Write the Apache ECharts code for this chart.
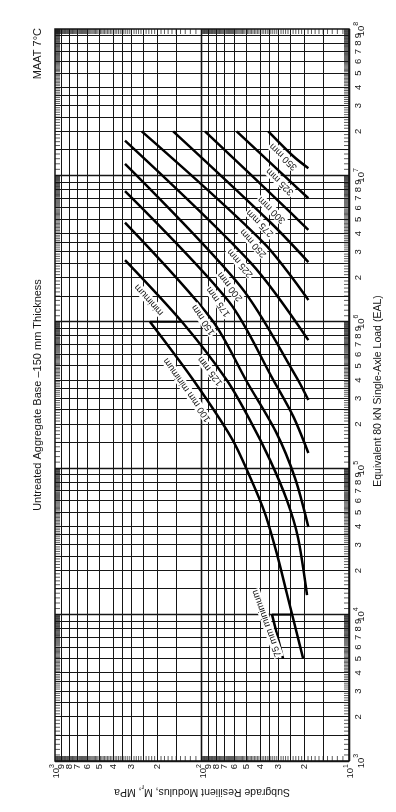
<!DOCTYPE html>
<html><head><meta charset="utf-8">
<script src="https://cdn.jsdelivr.net/npm/echarts/dist/echarts.min.js"></script>
<style>html,body{margin:0;padding:0;background:#fff;}#c{width:396px;height:812px;}</style>
</head><body><div id="c"></div>
<script>
// ---- axes ----
const modulusMin = 10, modulusMax = 1000;
const ealMin = 1e3, ealMax = 1e8;
const gridMultipliers = [1, 1.5, 2, 2.5, 3, 3.5, 4, 5, 6, 7, 8, 9];
const modulusDecades = [10, 100];
const ealDecades = [1e3, 1e4, 1e5, 1e6, 1e7];
const digitLabels = ['2', '3', '4', '5', '6', '7', '8', '9'];
const modulusPowers = [1, 2, 3];
const ealPowers = [3, 4, 5, 6, 7, 8];

// ---- curves: [modulus MPa, EAL] ----
const t350 = [[35.4, 2.0e7], [23.7, 1.34e7], [18.9, 1.12e7]];
const t325 = [[58.1, 2.0e7], [24.8, 9.0e6], [18.9, 6.98e6]];
const t300 = [[95.4, 2.0e7], [26.0, 5.8e6], [18.9, 4.24e6]];
const t275 = [[157, 2.0e7], [33.9, 4.73e6], [18.9, 2.56e6]];
const t250 = [[257, 2.0e7], [37.9, 3.45e6], [18.9, 1.41e6]];
const t225 = [[334, 1.73e7], [46.4, 2.52e6], [18.9, 7.5e5]];
const t200 = [[334, 1.2e7], [54.3, 1.73e6], [22.6, 4.13e5], [18.9, 2.92e5]];
const t175 = [[334, 7.82e6], [65.5, 1.37e6], [32.7, 4.0e5], [23.9, 2.25e5], [18.9, 1.27e5]];
const t150 = [[334, 4.75e6], [85.5, 1.03e6], [49.4, 3.88e5], [31.4, 1.77e5], [23.3, 8.57e4], [18.9, 3.97e4]];
const t125 = [[334, 2.64e6], [137, 1.0e6], [67.9, 4.0e5], [47.2, 2.13e5], [34.5, 1.14e5], [26.5, 6.07e4], [22.2, 3.34e4], [19.3, 1.36e4]];
const t100min = [[226, 1.0e6], [114.6, 4.0e5], [62.8, 1.6e5], [47.2, 8.75e4], [37.3, 4.92e4], [31.0, 2.62e4], [26.5, 1.4e4], [20.5, 5000]];
const t75min = [[33.4, 1.0e4], [28.1, 5000]];
const stub1e6 = [[226, 1e6], [137, 1e6]];
const stub1e4 = [[33.4, 1e4], [24.8, 1e4]];

// ---- curve labels ----
const curveLabelTexts = ['350 mm', '325 mm', '300 mm', '275 mm', '250 mm', '225 mm', '200 mm', '175 mm', '150 mm', 'minimum', '125 mm', '100 mm minimum', '75 mm minimum'];
const curveLabelModulus = [28.0, 29.5, 33.6, 40.3, 44.8, 55.1, 64.5, 77.5, 98.0, 229.4, 88.2, 126.5, 36.3];
const curveLabelEAL = [1.34e7, 9.06e6, 5.80e6, 4.71e6, 3.44e6, 2.51e6, 1.74e6, 1.37e6, 1.03e6, 1.41e6, 4.61e5, 3.42e5, 8.72e3];

// ---- styling (not data) ----
const curveLabelAngles = [136, 136, 136, 135, 132, 131, 128, 125, 124, 132, 128, 125, 110];
const INK = '#151515';
const FONT = '"Liberation Sans", Arial, Helvetica, sans-serif';

const chart = echarts.init(document.getElementById('c'));

const vGrid = [];
modulusDecades.forEach(d => gridMultipliers.forEach(m => vGrid.push([m * d, ealMin, m === 1 ? 1 : 0])));
const hGrid = [];
ealDecades.forEach(d => gridMultipliers.forEach(m => hGrid.push([modulusMin, m * d, m === 1 ? 1 : 0])));

const minorSteps = [];
for (let k = 11; k <= 99; k++) if (k % 10 !== 0) minorSteps.push(k / 10);
const modTicks = [];
modulusDecades.forEach(d => minorSteps.forEach(s => modTicks.push([s * d, ealMin])));
const ealTicks = [];
ealDecades.forEach(d => minorSteps.forEach(s => ealTicks.push([modulusMin, s * d])));

function powText(p) { return '{b|10}{s|' + p + '}'; }
const modLabelItems = [], modLabelStr = [];
modulusDecades.forEach(d => digitLabels.forEach(t => { modLabelItems.push([Number(t) * d, ealMin, modLabelStr.length]); modLabelStr.push(t); }));
modulusPowers.forEach(p => { modLabelItems.push([Math.pow(10, p), ealMin, modLabelStr.length]); modLabelStr.push(powText(p)); });
const ealLabelItems = [], ealLabelStr = [];
ealDecades.forEach(d => digitLabels.forEach(t => { ealLabelItems.push([modulusMin, Number(t) * d, ealLabelStr.length]); ealLabelStr.push(t); }));
ealPowers.forEach(p => { ealLabelItems.push([modulusMin, Math.pow(10, p), ealLabelStr.length]); ealLabelStr.push(powText(p)); });

const rich = {
  b: { fontSize: 9.5, fontFamily: FONT, fill: INK, lineHeight: 13, verticalAlign: 'bottom' },
  s: { fontSize: 7, fontFamily: FONT, fill: INK, lineHeight: 13, verticalAlign: 'top' }
};

function snap(v) { return Math.round(v - 0.5) + 0.5; }
function seg(p1, p2, w) {
  return { type: 'line', shape: { x1: p1[0], y1: p1[1], x2: p2[0], y2: p2[1] }, style: { stroke: INK, lineWidth: w } };
}

const series = [];
series.push({
  type: 'custom', silent: true, clip: false, z: 1, data: vGrid,
  renderItem: (params, api) => {
    const a = api.coord([api.value(0), ealMin]), b = api.coord([api.value(0), ealMax]);
    const x = snap(a[0]);
    return seg([x, a[1]], [x, b[1]], api.value(2) ? 1.6 : 1);
  }
});
series.push({
  type: 'custom', silent: true, clip: false, z: 1, data: hGrid,
  renderItem: (params, api) => {
    const a = api.coord([modulusMax, api.value(1)]), b = api.coord([modulusMin, api.value(1)]);
    const y = snap(a[1]);
    return seg([a[0], y], [b[0], y], api.value(2) ? 1.6 : 1);
  }
});
series.push({
  type: 'custom', silent: true, clip: false, z: 1, data: modTicks,
  renderItem: (params, api) => {
    const b = api.coord([api.value(0), ealMin]), t = api.coord([api.value(0), ealMax]);
    return { type: 'group', children: [seg(b, [b[0], b[1] - 5], 0.7), seg(t, [t[0], t[1] + 5], 0.7)] };
  }
});
series.push({
  type: 'custom', silent: true, clip: false, z: 1, data: ealTicks,
  renderItem: (params, api) => {
    const l = api.coord([modulusMax, api.value(1)]), r = api.coord([modulusMin, api.value(1)]);
    return { type: 'group', children: [seg(l, [l[0] + 5, l[1]], 0.7), seg(r, [r[0] - 5, r[1]], 0.7)] };
  }
});
series.push({
  type: 'custom', silent: true, clip: false, z: 3, data: modLabelItems,
  renderItem: (params, api) => {
    const p = api.coord([api.value(0), ealMin]);
    return { type: 'text', x: p[0], y: p[1] + 3, rotation: Math.PI / 2,
      style: { text: modLabelStr[api.value(2)], rich: rich, fontSize: 9.5, fontFamily: FONT, fill: INK, align: 'right', verticalAlign: 'middle' } };
  }
});
series.push({
  type: 'custom', silent: true, clip: false, z: 3, data: ealLabelItems,
  renderItem: (params, api) => {
    const p = api.coord([modulusMin, api.value(1)]);
    return { type: 'text', x: p[0] + 4, y: p[1], rotation: Math.PI / 2,
      style: { text: ealLabelStr[api.value(2)], rich: rich, fontSize: 9.5, fontFamily: FONT, fill: INK, align: 'center', verticalAlign: 'top' } };
  }
});

const curveList = [t350, t325, t300, t275, t250, t225, t200, t175, t150, t125, t100min, t75min];
curveList.forEach(d => series.push({
  type: 'line', data: d, smooth: 0.3, showSymbol: false, silent: true, z: 5,
  lineStyle: { color: '#000', width: 2.5 }
}));
[stub1e6, stub1e4].forEach(d => series.push({
  type: 'line', data: d, showSymbol: false, silent: true, z: 5, lineStyle: { color: '#000', width: 2 }
}));

series.push({
  type: 'custom', silent: true, clip: false, z: 6,
  data: curveLabelTexts.map((t, i) => [curveLabelModulus[i], curveLabelEAL[i], i]),
  renderItem: (params, api) => {
    const i = api.value(2);
    const p = api.coord([api.value(0), api.value(1)]);
    return { type: 'text', x: p[0], y: p[1], rotation: curveLabelAngles[i] * Math.PI / 180,
      style: { text: curveLabelTexts[i], fontSize: 9.5, fontFamily: FONT, fill: INK, align: 'center', verticalAlign: 'middle',
        backgroundColor: '#fff', padding: [0, 1] } };
  }
});

chart.setOption({
  animation: false,
  backgroundColor: '#fff',
  grid: { left: 55, top: 29, width: 294, height: 732, show: true, borderColor: INK, borderWidth: 1.5, backgroundColor: 'transparent' },
  xAxis: { type: 'log', logBase: 10, min: modulusMin, max: modulusMax, inverse: true,
    axisLine: { show: false }, axisTick: { show: false }, axisLabel: { show: false }, splitLine: { show: false } },
  yAxis: { type: 'log', logBase: 10, min: ealMin, max: ealMax,
    axisLine: { show: false }, axisTick: { show: false }, axisLabel: { show: false }, splitLine: { show: false } },
  graphic: [
    { type: 'text', x: 38, y: 395, rotation: Math.PI / 2,
      style: { text: 'Untreated Aggregate Base \u2013150 mm Thickness', fontSize: 11, fontFamily: FONT, fill: INK, align: 'center', verticalAlign: 'middle' } },
    { type: 'text', x: 38, y: 28, rotation: Math.PI / 2,
      style: { text: 'MAAT 7\u00b0C', fontSize: 11, fontFamily: FONT, fill: INK, align: 'right', verticalAlign: 'middle' } },
    { type: 'text', x: 378, y: 391, rotation: Math.PI / 2,
      style: { text: 'Equivalent 80 kN Single-Axle Load (EAL)', fontSize: 10.5, fontFamily: FONT, fill: INK, align: 'center', verticalAlign: 'middle' } },
    { type: 'text', x: 202, y: 790, rotation: Math.PI,
      style: { text: '{n|Subgrade Resilient Modulus, M}{r|r}{n|, MPa}', fontSize: 10.5, fontFamily: FONT, fill: INK, align: 'center', verticalAlign: 'middle',
        rich: { n: { fontSize: 10.5, fontFamily: FONT, fill: INK, lineHeight: 14, verticalAlign: 'top' }, r: { fontSize: 7.5, fontFamily: FONT, fill: INK, lineHeight: 14, verticalAlign: 'bottom' } } } }
  ],
  series: series
});
</script>
</body></html>
